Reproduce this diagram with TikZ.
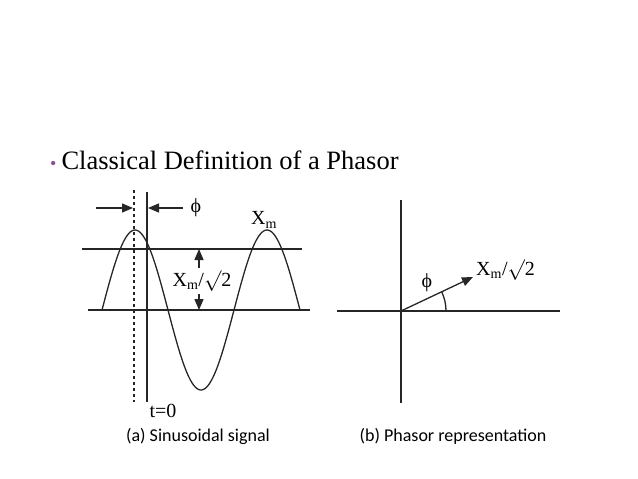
\documentclass[tikz,border=0pt]{standalone}
\usepackage{fontspec}
\setmainfont{Liberation Serif}
\newfontfamily\capfont{Carlito}
\usetikzlibrary{arrows.meta}
\begin{document}
\begin{tikzpicture}[x=1pt,y=-1pt,
  ln/.style={line width=1.3pt,black!85},
  lbl/.style={font=\fontsize{20}{20}\selectfont,inner sep=0pt},
  captxt/.style={font=\capfont\fontsize{18}{18}\selectfont,inner sep=0pt},
  tip/.style={-{Triangle[length=11pt,width=9pt]}}]
\useasboundingbox (0,0) rectangle (638,479);
\node[anchor=west,inner sep=0pt,font=\fontsize{26.5}{26.5}\selectfont] (title) at (50,160)
  {\textcolor[RGB]{140,80,150}{\fontsize{18}{18}\selectfont\textbullet}\hspace{5pt}Classical Definition of a Phasor};
% left figure
\draw[ln] (82,249) -- (302,249);
\draw[ln] (88,310) -- (310,310);
\draw[ln] (147,192) -- (147,402);
\draw[ln,dashed] (134,190) -- (134,402);
\draw[ln,domain=102:300,samples=120,smooth] plot (\x,{310-80*sin((\x-102)/132*360)});
\coordinate (pa) at (96,208); \coordinate (pb) at (133,208);
\coordinate (pc) at (183,208); \coordinate (pd) at (148,208);
\draw[ln,tip] (pa) -- (pb);
\draw[ln,tip] (pc) -- (pd);
\node[lbl] (phi1) at (196,208) {ϕ};
\node[lbl] (xm) at (264,220) {X\textsubscript{m}};
\node[lbl] (xr) at (202,281) {X\textsubscript{m}/$\surd$2};
\coordinate (u1) at (199,268); \coordinate (u2) at (199,249);
\coordinate (d1) at (199,294); \coordinate (d2) at (199,310);
\draw[ln,tip] (u1) -- (u2);
\draw[ln,tip] (d1) -- (d2);
\node[lbl] (t0) at (163,411) {t=0};
% right figure
\draw[ln] (401,200) -- (401,403);
\draw[ln] (337,311) -- (560,311);
\coordinate (o) at (401,311); \coordinate (p) at (473,277);
\draw[ln,tip] (o) -- (p);
\draw[ln] (446,311) arc[start angle=0,end angle=-25.3,radius=45];
\node[lbl] (phi2) at (427,283) {ϕ};
\node[lbl,anchor=west] (xr2) at (476,270) {X\textsubscript{m}/$\surd$2};
% captions
\node[captxt] (ca) at (198,436) {(a) Sinusoidal signal};
\node[captxt] (cb) at (453,436) {(b) Phasor representation};
\end{tikzpicture}
\end{document}
